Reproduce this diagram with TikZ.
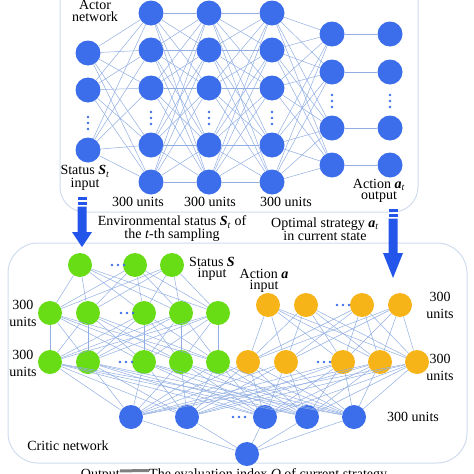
\documentclass[tikz,border=0pt]{standalone}
\usepackage{fontspec}
\setmainfont{Liberation Serif}
\usepackage{tikz}
\usetikzlibrary{shapes,arrows,positioning,calc}
\usepackage{xcolor}
\definecolor{nblue}{RGB}{60,110,236}
\definecolor{ngreen}{RGB}{104,220,20}
\definecolor{norange}{RGB}{247,180,25}
\definecolor{wirecol}{RGB}{145,174,226}
\definecolor{framecol}{RGB}{208,220,238}
\definecolor{bigblue}{RGB}{35,85,235}
\tikzset{
    actor/.style={circle, fill=nblue, minimum size=25pt, inner sep=0pt},
    critic/.style={circle, fill=nblue, minimum size=24pt, inner sep=0pt},
    state/.style={circle, fill=ngreen, minimum size=24pt, inner sep=0pt},
    action/.style={circle, fill=norange, minimum size=24pt, inner sep=0pt},
    wire/.style={draw=wirecol, line width=0.5pt},
    netframe/.style={draw=framecol, line width=1pt},
    lbl/.style={font=\fontsize{14}{11.5}\selectfont, align=center, inner sep=0pt},
    unitlbl/.style={font=\fontsize{14}{17}\selectfont, align=center, inner sep=0pt},
    dotmark/.style={fill=nblue}
}
\newcommand{\Sbf}{\textbf{\textit{S}}}
\newcommand{\abf}{\textbf{\textit{a}}}
\newcommand{\sub}[1]{\textsubscript{\textit{#1}}}

\begin{document}
\begin{tikzpicture}[x=1pt, y=-1pt]
        \useasboundingbox (0,0) rectangle (474,474);
        \clip (0,0) rectangle (474,474);

        % Frames
        \draw[netframe, rounded corners=25pt] (60,-30) rectangle (418,212);
        \draw[netframe, rounded corners=30pt] (8,243) rectangle (467,463);

        % Actor network
        \foreach \y [count=\i] in {53,90,150}
            \node[actor] (a1-\i) at (88,\y) {};
        \foreach \c/\x in {2/151,3/209,4/272}
            \foreach \y [count=\i] in {13,50,88,145,182}
                \node[actor] (a\c-\i) at (\x,\y) {};
        \foreach \c/\x in {5/332,6/390}
            \foreach \y [count=\i] in {34,72,128,165}
                \node[actor] (a\c-\i) at (\x,\y) {};

        \foreach \i in {1,...,3}
            \foreach \j in {1,...,5}
                \draw[wire] (a1-\i) -- (a2-\j);
        \foreach \c/\d in {2/3,3/4}
            \foreach \i in {1,...,5}
                \foreach \j in {1,...,5}
                    \draw[wire] (a\c-\i) -- (a\d-\j);
        \foreach \i in {1,...,5}
            \foreach \j in {1,...,4}
                \draw[wire] (a4-\i) -- (a5-\j);
        \foreach \i in {1,...,4}
            \draw[wire] (a5-\i) -- (a6-\i);

        % Vertical dots
        \foreach \x/\y in {88/123,151/118,209/118,272/118,332/101,390/101}
            \foreach \k in {-6,0,6}
                \fill[dotmark] (\x,\y+\k) circle (1.3);

        % Actor labels
        \node[lbl] (actnet) at (95,11) {Actor\\network};
        \node[lbl] (stin) at (85,178) {Status \Sbf\sub{t}\\input};
        \node[lbl] (u2) at (138,202) {300 units};
        \node[lbl] (u3) at (210,202) {300 units};
        \node[lbl] (u4) at (286,202) {300 units};
        \node[lbl] (actout) at (379,191) {Action \abf\sub{t}\\output};

        % Transfer arrows
        \coordinate (sin) at (82,197);
        \coordinate (sinhead) at (82,232);
        \coordinate (sintip) at (82,247);
        \fill[bigblue] ($(sin)+(-4.5,0)$) rectangle ($(sin)+(4.5,2.5)$);
        \fill[bigblue] ($(sin)+(-4.5,4.5)$) rectangle ($(sin)+(4.5,7.5)$);
        \fill[bigblue] ($(sin)+(-4.5,9.5)$) -- ($(sinhead)+(-4.5,0)$) -- ($(sinhead)+(-10,0)$)
            -- (sintip) -- ($(sinhead)+(10,0)$) -- ($(sinhead)+(4.5,0)$) -- ($(sin)+(4.5,9.5)$) -- cycle;

        \coordinate (ain) at (393,209);
        \coordinate (ainhead) at (393,253);
        \coordinate (aintip) at (393,278);
        \fill[bigblue] ($(ain)+(-4.5,0)$) rectangle ($(ain)+(4.5,2.5)$);
        \fill[bigblue] ($(ain)+(-4.5,4.5)$) rectangle ($(ain)+(4.5,7.5)$);
        \fill[bigblue] ($(ain)+(-4.5,9.5)$) -- ($(ainhead)+(-4.5,0)$) -- ($(ainhead)+(-10,0)$)
            -- (aintip) -- ($(ainhead)+(10,0)$) -- ($(ainhead)+(4.5,0)$) -- ($(ain)+(4.5,9.5)$) -- cycle;

        \node[lbl] (env) at (172,229) {Environmental status \Sbf\sub{t} of\\the \textit{t}-th sampling};
        \node[lbl] (opt) at (325,229) {Optimal strategy \abf\sub{t}\\in current state};

        % Critic network
        \foreach \x [count=\i] in {80,135,172}
            \node[state] (s1-\i) at (\x,265) {};
        \foreach \x [count=\i] in {50,88,144,181,218}
            \node[state] (s2-\i) at (\x,313) {};
        \foreach \x [count=\i] in {50,88,144,181,218}
            \node[state] (s3-\i) at (\x,362) {};
        \foreach \x [count=\i] in {268,306,362,400}
            \node[action] (p1-\i) at (\x,305) {};
        \foreach \x [count=\i] in {248,286,343,380,417}
            \node[action] (p2-\i) at (\x,362) {};
        \foreach \x [count=\i] in {131,187,265,307,354}
            \node[critic] (q-\i) at (\x,417) {};
        \node[critic] (qout) at (247,454) {};

        \foreach \i in {1,...,3}
            \foreach \j in {1,...,5}
                \draw[wire] (s1-\i) -- (s2-\j);
        \foreach \i in {1,...,5}
            \foreach \j in {1,...,5}
                \draw[wire] (s2-\i) -- (s3-\j);
        \foreach \i in {1,...,4}
            \foreach \j in {1,...,5}
                \draw[wire] (p1-\i) -- (p2-\j);
        \foreach \i in {1,...,5}
            \foreach \j in {1,...,5} {
                \draw[wire] (s3-\i) -- (q-\j);
                \draw[wire] (p2-\i) -- (q-\j);
            }
        \foreach \j in {1,...,5}
            \draw[wire] (q-\j) -- (qout);

        % Horizontal dots
        \foreach \x/\y in {118/265,127/313,126/362,343/305,324/362,239/417}
            \foreach \k in {-6,0,6}
                \fill[dotmark] (\x+\k,\y) circle (1.3);

        % Critic labels
        \node[lbl] (sSin) at (212,269) {Status \Sbf\\input};
        \node[lbl] (aAin) at (264,281) {Action \abf\\input};
        \node[unitlbl] (l1) at (23,313) {300\\units};
        \node[unitlbl] (l2) at (23,363) {300\\units};
        \node[unitlbl] (r1) at (440,305) {300\\units};
        \node[unitlbl] (r2) at (440,367) {300\\units};
        \node[lbl] (qu) at (413,417) {300 units};
        \node[lbl] (critnet) at (68,446) {Critic network};

        % Output
        \node[lbl, anchor=base east] (outl) at (120,478) {Output};
        \node[lbl, anchor=base west] (outr) at (149,478) {The evaluation index \textit{Q} of current strategy};
        \draw[gray, line width=3pt] (outl.east) ++(0,-4) -- ($(outr.west)+(0,-4)$);
    \end{tikzpicture}
\end{document}
